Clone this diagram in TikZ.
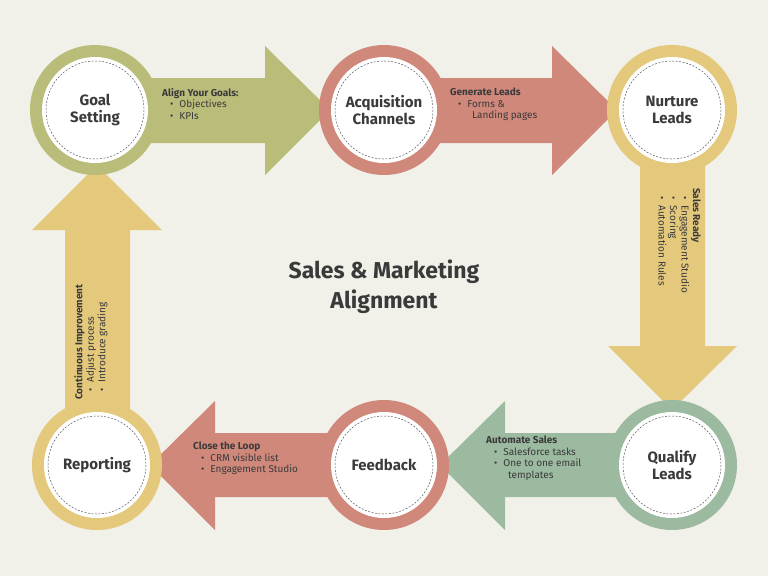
\documentclass[tikz,border=0pt]{standalone}
\usepackage{fontspec}
\setmainfont{Fira Sans}
\begin{document}
\begin{tikzpicture}[x=1pt,y=-1pt,
  ring/.style={circle,minimum size=130pt,inner sep=0pt,fill=#1},
  lbl/.style={font=\bfseries\fontsize{15}{17}\selectfont,text=txt,align=center},
  alab/.style={font=\fontsize{10}{12.5}\selectfont,text=txt,align=left,inner sep=0pt}]
\definecolor{bg}{HTML}{F1F1E9}
\definecolor{grn}{HTML}{B9BD79}
\definecolor{red}{HTML}{D0887B}
\definecolor{yel}{HTML}{E4C97C}
\definecolor{sag}{HTML}{9CBA9F}
\definecolor{txt}{HTML}{3A3A3A}
\fill[bg] (0,0) rectangle (768,576);
\useasboundingbox (0,0) rectangle (768,576);
% arrows
\fill[grn] (140,78) -- (265,78) -- (265,46) -- (330,110) -- (265,175) -- (265,143) -- (140,143) -- cycle;
\fill[red] (430,78) -- (552,78) -- (552,46) -- (617,110) -- (552,175) -- (552,143) -- (430,143) -- cycle;
\fill[yel] (640,150) -- (640,346) -- (608,346) -- (672,410) -- (737,346) -- (705,346) -- (705,150) -- cycle;
\fill[sag] (620,433) -- (505,433) -- (505,401) -- (440,465) -- (505,530) -- (505,497) -- (620,497) -- cycle;
\fill[red] (330,433) -- (215,433) -- (215,401) -- (150,465) -- (215,530) -- (215,497) -- (330,497) -- cycle;
\fill[yel] (65,420) -- (65,230) -- (32,230) -- (97,165) -- (162,230) -- (130,230) -- (130,420) -- cycle;
% circles
\foreach \n/\x/\y/\c/\t in {g/95/110/grn/Goal\\Setting, a/384/110/red/Acquisition\\Channels, n/672/110/yel/Nurture\\Leads, q/672/465/sag/Qualify\\Leads, f/384/465/red/Feedback, r/97/465/yel/Reporting}{
  \node[ring=\c] (\n) at (\x,\y) {};
  \fill[white] (\n) circle (53);
  \draw[gray!70!black,dashed,line width=0.5pt,dash pattern=on 2pt off 1.5pt] (\n) circle (49);
  \node[lbl] (\n t) at (\n) {\t};
}
% labels
\node[alab,anchor=north west] (l1) at (162,88) {\textbf{Align Your Goals:}\\[-1pt]\hspace*{8pt}•\hspace{6pt}Objectives\\[-1pt]\hspace*{8pt}•\hspace{6pt}KPIs};
\node[alab,anchor=north west] (l2) at (450,88) {\textbf{Generate Leads}\\[-1pt]\hspace*{8pt}•\hspace{6pt}Forms \&\\[-1pt]\hspace*{22pt}Landing pages};
\node[alab,anchor=north west,rotate=-90] (l3) at (701,188) {\textbf{Sales Ready}\\[-1pt]\hspace*{8pt}•\hspace{6pt}Engagement Studio\\[-1pt]\hspace*{8pt}•\hspace{6pt}Scoring\\[-1pt]\hspace*{8pt}•\hspace{6pt}Automation Rules};
\node[alab,anchor=north west] (l4) at (486,436) {\textbf{Automate Sales}\\[-1pt]\hspace*{8pt}•\hspace{6pt}Salesforce tasks\\[-1pt]\hspace*{8pt}•\hspace{6pt}One to one email\\[-1pt]\hspace*{22pt}templates};
\node[alab,anchor=north west] (l5) at (193,442) {\textbf{Close the Loop}\\[-1pt]\hspace*{8pt}•\hspace{6pt}CRM visible list\\[-1pt]\hspace*{8pt}•\hspace{6pt}Engagement Studio};
\node[alab,anchor=north west,rotate=90] (l6) at (74,400) {\textbf{Continuous Improvement}\\[-1pt]\hspace*{8pt}•\hspace{6pt}Adjust process\\[-1pt]\hspace*{8pt}•\hspace{6pt}Introduce grading};
\node[font=\bfseries\fontsize{23}{30}\selectfont,text=txt,align=center] (title) at (384,287) {Sales \& Marketing\\Alignment};
\end{tikzpicture}
\end{document}
